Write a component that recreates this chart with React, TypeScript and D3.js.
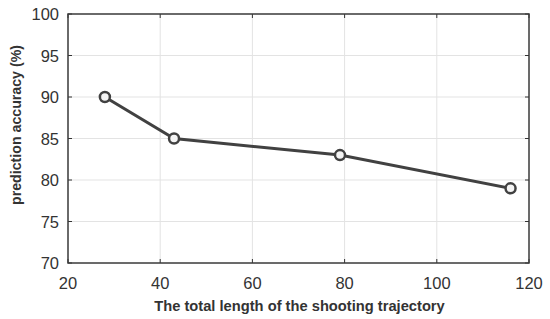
import React from "react";
import * as d3 from "d3";

// trajectory length vs prediction accuracy
const lengths = [28, 43, 79, 116];
const accuracy = [90, 85, 83, 79];
const xTicks = [20, 40, 60, 80, 100, 120];
const yTicks = [70, 75, 80, 85, 90, 95, 100];

const W = 550;
const H = 319;
const margin = { left: 68, right: 21, top: 14, bottom: 56 };
const font = "Liberation Sans, Arial, sans-serif";

const App = () => {
  const ref = React.useRef<SVGSVGElement>(null);

  React.useEffect(() => {
    const width = W - margin.left - margin.right;
    const height = H - margin.top - margin.bottom;
    const x = d3.scaleLinear().domain([20, 120]).range([0, width]);
    const y = d3.scaleLinear().domain([70, 100]).range([height, 0]);

    const svgEl = d3.select(ref.current);
    svgEl.selectAll("*").remove();
    svgEl.append("rect").attr("width", W).attr("height", H).attr("fill", "#fff");
    const svg = svgEl.append("g").attr("transform", `translate(${margin.left},${margin.top})`);

    // grid
    svg.selectAll(".gx").data(xTicks.slice(1, -1)).enter().append("line")
      .attr("x1", d => x(d)).attr("x2", d => x(d))
      .attr("y1", 0).attr("y2", height)
      .attr("stroke", "#e3e3e3").attr("stroke-width", 1);
    svg.selectAll(".gy").data(yTicks.slice(1, -1)).enter().append("line")
      .attr("x1", 0).attr("x2", width)
      .attr("y1", d => y(d)).attr("y2", d => y(d))
      .attr("stroke", "#e3e3e3").attr("stroke-width", 1);

    // inward ticks on all four sides
    const tk = 4;
    xTicks.forEach(t => {
      svg.append("line").attr("x1", x(t)).attr("x2", x(t)).attr("y1", height).attr("y2", height - tk)
        .attr("stroke", "#333").attr("stroke-width", 1);
      svg.append("line").attr("x1", x(t)).attr("x2", x(t)).attr("y1", 0).attr("y2", tk)
        .attr("stroke", "#333").attr("stroke-width", 1);
    });
    yTicks.forEach(t => {
      svg.append("line").attr("x1", 0).attr("x2", tk).attr("y1", y(t)).attr("y2", y(t))
        .attr("stroke", "#333").attr("stroke-width", 1);
      svg.append("line").attr("x1", width).attr("x2", width - tk).attr("y1", y(t)).attr("y2", y(t))
        .attr("stroke", "#333").attr("stroke-width", 1);
    });

    // frame
    svg.append("rect").attr("width", width).attr("height", height)
      .attr("fill", "none").attr("stroke", "#3a3a3a").attr("stroke-width", 1.5);

    // tick labels
    svg.selectAll(".xl").data(xTicks).enter().append("text")
      .attr("x", d => x(d)).attr("y", height + 26)
      .attr("text-anchor", "middle")
      .style("font-family", font)
      .style("font-size", "16.5px").attr("fill", "#333")
      .text(d => d);
    svg.selectAll(".yl").data(yTicks).enter().append("text")
      .attr("x", -9).attr("y", d => y(d) + 6)
      .attr("text-anchor", "end")
      .style("font-family", font)
      .style("font-size", "16.5px").attr("fill", "#333")
      .text(d => d);

    // axis titles
    svg.append("text")
      .attr("x", width / 2 + 1).attr("y", height + 48)
      .attr("text-anchor", "middle")
      .style("font-family", font)
      .style("font-size", "14.7px").style("font-weight", "bold").attr("fill", "#333")
      .text("The total length of the shooting trajectory");
    svg.append("text")
      .attr("transform", `translate(${21 - margin.left},${125 - margin.top}) rotate(-90)`)
      .attr("text-anchor", "middle")
      .attr("textLength", 160).attr("lengthAdjust", "spacingAndGlyphs")
      .style("font-family", font)
      .style("font-size", "15px").style("font-weight", "bold").attr("fill", "#333")
      .text("prediction accuracy (%)");

    // series
    const pts = lengths.map((l, i) => [l, accuracy[i]] as [number, number]);
    const line = d3.line<[number, number]>().x(d => x(d[0])).y(d => y(d[1]));
    svg.append("path").datum(pts).attr("d", line)
      .attr("fill", "none").attr("stroke", "#414141").attr("stroke-width", 3);
    svg.selectAll(".pt").data(pts).enter().append("circle")
      .attr("cx", d => x(d[0])).attr("cy", d => y(d[1])).attr("r", 5)
      .attr("fill", "#f4f4f4").attr("stroke", "#414141").attr("stroke-width", 2.5);
  }, []);

  return <svg ref={ref} width={W} height={H} style={{ position: "absolute", left: 0, top: 0 }} />;
};

export default App;
